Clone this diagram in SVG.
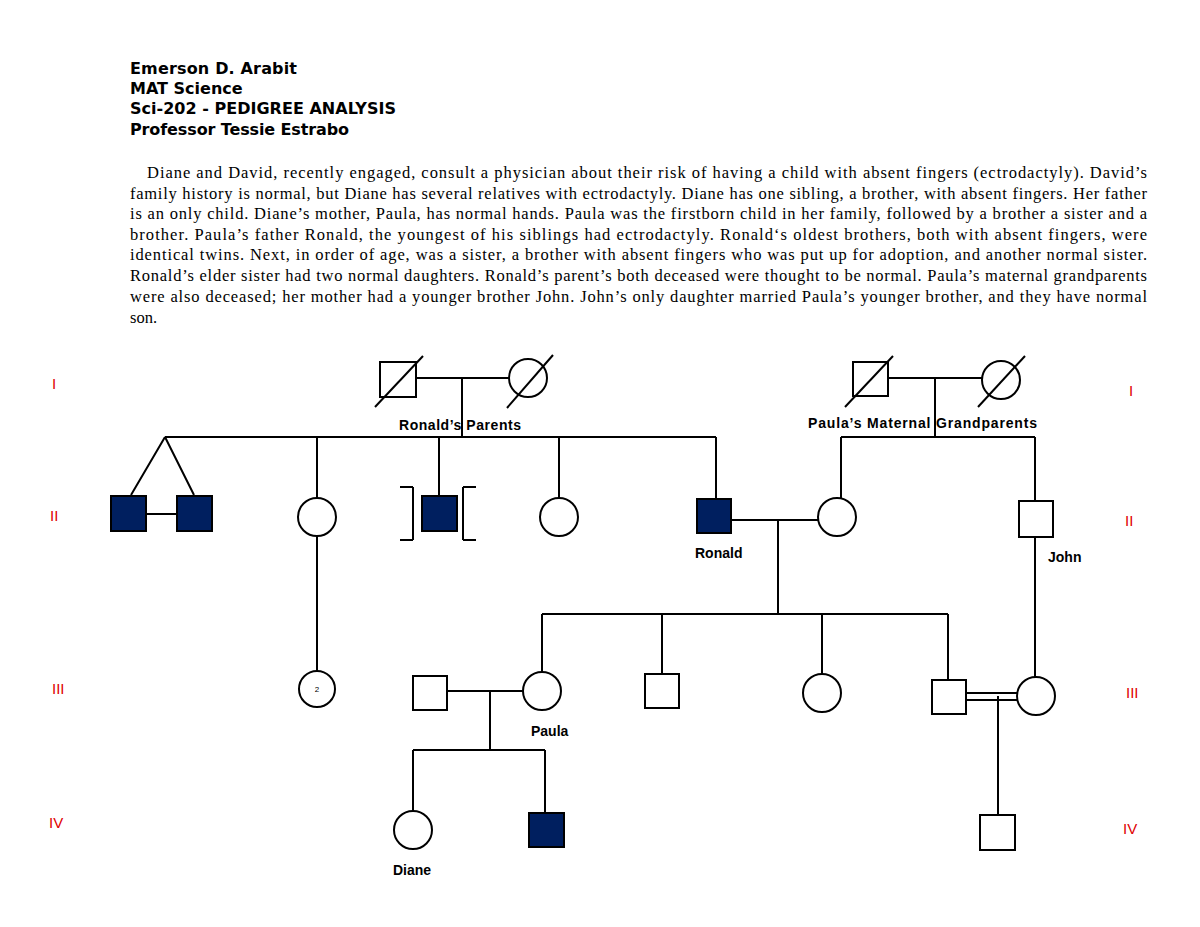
<svg xmlns="http://www.w3.org/2000/svg" width="1200" height="927" viewBox="0 0 1200 927">
<style>
.h{font-family:"DejaVu Sans",sans-serif;font-size:16px;font-weight:bold;fill:#000}
.p{font-family:"Liberation Serif",serif;font-size:16.5px;fill:#000}
.l{font-family:"Liberation Sans",sans-serif;font-size:14px;font-weight:bold;fill:#000}
.g{font-family:"Liberation Sans",sans-serif;font-size:15px;fill:#e00000}
.n{fill:#fff;stroke:#000;stroke-width:2}
.a{fill:#001f5f;stroke:#000;stroke-width:2}
.c{fill:none;stroke:#000;stroke-width:2}
</style>
<rect width="1200" height="927" fill="#fff"/>
<g id="header">
<text class="h" x="130" y="74" textLength="167">Emerson D. Arabit</text>
<text class="h" x="130" y="94">MAT Science</text>
<text class="h" x="130" y="114" textLength="266">Sci-202 - PEDIGREE ANALYSIS</text>
<text class="h" x="130" y="135" textLength="219">Professor Tessie Estrabo</text>
</g>
<g id="paragraph">
<text class="p" x="147" y="178" textLength="1000" lengthAdjust="spacing">Diane and David, recently engaged, consult a physician about their risk of having a child with absent fingers (ectrodactyly). David’s</text>
<text class="p" x="130" y="199" textLength="1017" lengthAdjust="spacing">family history is normal, but Diane has several relatives with ectrodactyly. Diane has one sibling, a brother, with absent fingers. Her father</text>
<text class="p" x="130" y="219" textLength="1017" lengthAdjust="spacing">is an only child. Diane’s mother, Paula, has normal hands. Paula was the firstborn child in her family, followed by a brother a sister and a</text>
<text class="p" x="130" y="240" textLength="1017" lengthAdjust="spacing">brother. Paula’s father Ronald, the youngest of his siblings had ectrodactyly. Ronald‘s oldest brothers, both with absent fingers, were</text>
<text class="p" x="130" y="260" textLength="1017" lengthAdjust="spacing">identical twins. Next, in order of age, was a sister, a brother with absent fingers who was put up for adoption, and another normal sister.</text>
<text class="p" x="130" y="281" textLength="1017" lengthAdjust="spacing">Ronald’s elder sister had two normal daughters. Ronald’s parent’s both deceased were thought to be normal. Paula’s maternal grandparents</text>
<text class="p" x="130" y="302" textLength="1017" lengthAdjust="spacing">were also deceased; her mother had a younger brother John. John’s only daughter married Paula’s younger brother, and they have normal</text>
<text class="p" x="130" y="323">son.</text>
</g>
<g id="generations">
<text class="g" x="52" y="389">I</text><text class="g" x="50" y="521">II</text><text class="g" x="52" y="694">III</text><text class="g" x="49" y="828">IV</text>
<text class="g" x="1129" y="396">I</text><text class="g" x="1125" y="526">II</text><text class="g" x="1126" y="698">III</text><text class="g" x="1123" y="834">IV</text>
</g>
<g id="connectors" class="c">
<path d="M416 378H509M462 378V437M165 437H716"/>
<path d="M165 437L131 495M165 437L194 495M146 514H177"/>
<path d="M317 437V498M317 536V672M439 437V496M559 437V498M716 437V499"/>
<path d="M413 487h-13M413 487V540M413 540h-13M463 487h13M463 487V540M463 540h13"/>
<path d="M888 378H982M935 378V437M841 437H1035M841 437V498M1035 437V501M1035 537V677"/>
<path d="M731 520H818M778 520V614M542 614H948M542 614V672M662 614V674M822 614V674M948 614V680"/>
<path d="M966 693H1017M966 700H1017M998 696V815"/>
<path d="M447 691H523M490 691V750M413 750H545M413 750V811M545 750V813"/>
</g>
<g id="ronalds-father"><rect class="n" x="380" y="362" width="36" height="35"/><path class="c" d="M375 407L423 356"/></g>
<g id="ronalds-mother"><circle class="n" cx="528" cy="378" r="19"/><path class="c" d="M507 408L553 355"/></g>
<text class="l" x="399" y="430" textLength="122">Ronald’s Parents</text>
<g id="pmg-father"><rect class="n" x="853" y="362" width="35" height="34"/><path class="c" d="M845 407L893 356"/></g>
<g id="pmg-mother"><circle class="n" cx="1001" cy="380" r="19"/><path class="c" d="M978 407L1025 356"/></g>
<text class="l" x="808" y="428" textLength="229">Paula’s Maternal Grandparents</text>
<g id="twin1"><rect class="a" x="111" y="496" width="35" height="35"/></g>
<g id="twin2"><rect class="a" x="177" y="496" width="35" height="35"/></g>
<g id="elder-sister"><circle class="n" cx="317" cy="517" r="19"/></g>
<g id="adopted-brother"><rect class="a" x="422" y="496" width="35" height="35"/></g>
<g id="sister2"><circle class="n" cx="559" cy="517" r="19"/></g>
<g id="ronald"><rect class="a" x="697" y="499" width="34" height="34"/><text class="l" x="695" y="558">Ronald</text></g>
<g id="paulas-mother"><circle class="n" cx="837" cy="517" r="19"/></g>
<g id="john"><rect class="n" x="1019" y="501" width="34" height="36"/><text class="l" x="1048" y="562">John</text></g>
<g id="daughters2"><circle class="n" cx="317" cy="689" r="18"/><text x="317" y="692" text-anchor="middle" font-family="Liberation Sans,sans-serif" font-size="8" fill="#000">2</text></g>
<g id="paulas-husband"><rect class="n" x="413" y="676" width="34" height="34"/></g>
<g id="paula"><circle class="n" cx="542" cy="691" r="19"/><text class="l" x="531" y="736">Paula</text></g>
<g id="brother3"><rect class="n" x="645" y="674" width="34" height="34"/></g>
<g id="sister3"><circle class="n" cx="822" cy="693" r="19"/></g>
<g id="younger-brother"><rect class="n" x="932" y="680" width="34" height="34"/></g>
<g id="johns-daughter"><circle class="n" cx="1036" cy="696" r="19"/></g>
<g id="diane"><circle class="n" cx="413" cy="830" r="19"/><text class="l" x="393" y="875">Diane</text></g>
<g id="diane-brother"><rect class="a" x="529" y="813" width="35" height="34"/></g>
<g id="cousin-son"><rect class="n" x="980" y="815" width="35" height="35"/></g>
</svg>
